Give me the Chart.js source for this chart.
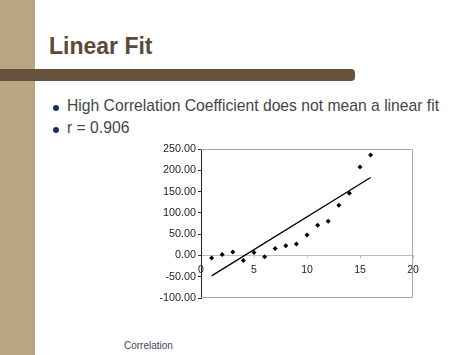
<!DOCTYPE html>
<html><head><meta charset="utf-8">
<script src="https://cdn.jsdelivr.net/npm/chart.js@4/dist/chart.umd.min.js"></script>
<style>
html,body{margin:0;padding:0;background:#fff;width:474px;height:355px;overflow:hidden;font-family:"Liberation Sans",Arial,sans-serif;}
#side{position:absolute;left:0;top:0;width:35px;height:355px;background:#BAA582;}
#bar{position:absolute;left:0;top:69px;width:355px;height:12px;background:#66523B;border-radius:0 4px 4px 0;}
#title{position:absolute;left:49px;top:33px;font-size:23px;font-weight:bold;color:#5B4A38;white-space:nowrap;}
.bl{position:absolute;left:67px;font-size:15.7px;color:#454545;white-space:nowrap;}
.dot{position:absolute;left:53px;width:6px;height:6px;border-radius:3px;background:#1E3557;}
#foot{position:absolute;left:124px;top:340px;font-size:10px;color:#3D4660;}
#wrap{position:absolute;left:140px;top:140px;width:290px;height:170px;}
</style></head><body>
<div id="side"></div><div id="bar"></div>
<div id="title">Linear Fit</div>
<div class="dot" style="top:105px"></div><div class="bl" style="top:97px">High Correlation Coefficient does not mean a linear fit</div>
<div class="dot" style="top:127px"></div><div class="bl" style="top:119px">r = 0.906</div>
<div id="foot">Correlation</div>
<div id="wrap"><canvas id="c" width="290" height="170"></canvas></div>
<script>
const xValues = [1,2,3,4,5,6,7,8,9,10,11,12,13,14,15,16];
const yValues = [-6,2,8,-12,7,-3,16,23,27,48,71,80,118,146,208,236];
const fitX = [1,16];
const fitY = [-48,183];
const yTicks = [-100,-50,0,50,100,150,200,250];
const xTicks = [0,5,10,15,20];

const boxPlugin = {id:'box', beforeDatasetsDraw(chart){
  const a = chart.chartArea, ctx = chart.ctx;
  ctx.save(); ctx.strokeStyle='#a8a8a8'; ctx.lineWidth=1;
  ctx.beginPath();
  ctx.moveTo(a.left, a.top+0.5); ctx.lineTo(a.right-0.5, a.top+0.5);
  ctx.lineTo(a.right-0.5, a.bottom-0.5); ctx.lineTo(a.left, a.bottom-0.5);
  ctx.stroke(); ctx.restore();
}};

new Chart(document.getElementById('c'), {
  type:'scatter',
  data:{datasets:[
    {data:xValues.map((x,i)=>({x:x,y:yValues[i]})), pointStyle:'rectRot', pointRadius:2.5, backgroundColor:'#000', borderColor:'#000', borderWidth:0, showLine:false},
    {data:fitX.map((x,i)=>({x:x,y:fitY[i]})), showLine:true, borderColor:'#000', borderWidth:1.3, pointRadius:0}
  ]},
  options:{
    responsive:false, animation:false,
    layout:{padding:{left:0,top:9,right:17,bottom:12}},
    plugins:{legend:{display:false},tooltip:{enabled:false}},
    scales:{
      x:{type:'linear', min:0, max:20, position:{y:0},
        afterBuildTicks(s){s.ticks = xTicks.map(v=>({value:v}));},
        ticks:{font:{family:'Liberation Sans',size:10.5}, color:'#222', padding:6, maxRotation:0},
        grid:{drawOnChartArea:false, drawTicks:true, tickLength:2, color:'#bbb'},
        border:{color:'#bbb', width:1}},
      y:{type:'linear', min:-100, max:250,
        afterBuildTicks(s){s.ticks = yTicks.map(v=>({value:v}));},
        afterFit(s){s.width = 61;},
        ticks:{font:{family:'Liberation Sans',size:10.8}, color:'#222', padding:2, callback:v=>v.toFixed(2)},
        grid:{drawOnChartArea:false, drawTicks:true, tickLength:3, color:'#333'},
        border:{color:'#222', width:1}}
    }
  },
  plugins:[boxPlugin]
});
</script>
</body></html>
